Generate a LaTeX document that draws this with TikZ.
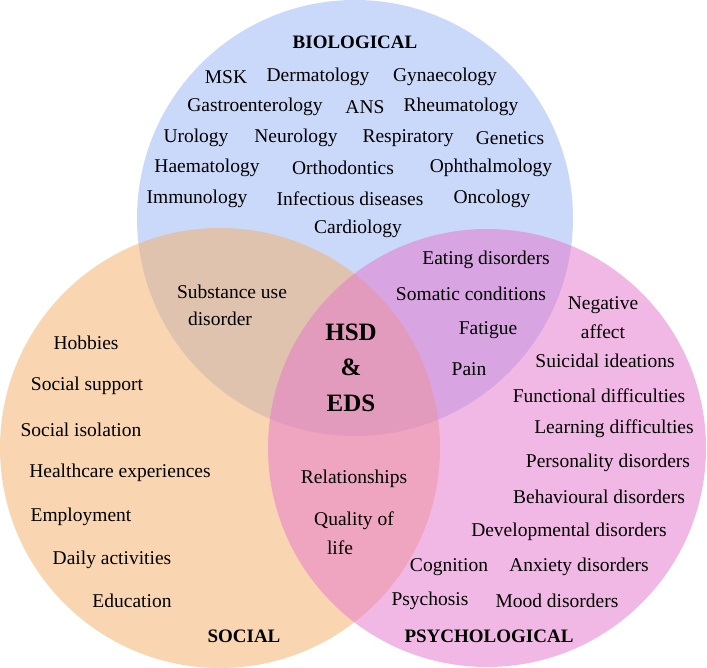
\documentclass[tikz,border=0pt]{standalone}
\usepackage{fontspec}
\setmainfont{Liberation Serif}
\begin{document}
\begin{tikzpicture}[x=1pt,y=-1pt,
  lbl/.style={font=\fontsize{19.5}{21}\selectfont,inner sep=0pt},
  ttl/.style={font=\fontsize{19}{21}\selectfont\bfseries,inner sep=0pt},
  big/.style={font=\fontsize{25}{27}\selectfont\bfseries,inner sep=0pt}]
\useasboundingbox (0,0) rectangle (707,668);
\definecolor{bio}{RGB}{150,180,245}
\definecolor{soc}{RGB}{245,175,100}
\definecolor{psy}{RGB}{230,115,205}
\fill[white] (0,0) rectangle (707,668);
\fill[bio,opacity=0.5] (355,218) circle (218);
\fill[soc,opacity=0.5] (220,448) circle (220);
\fill[psy,opacity=0.5] (487,448) circle (219);
\node[ttl] (b) at (355,42) {BIOLOGICAL};
\node[lbl] (b1) at (226,77) {MSK};
\node[lbl] (b2) at (318,77) {Dermatology};
\node[lbl] (b3) at (445,77) {Gynaecology};
\node[lbl] (b4) at (255,107) {Gastroenterology};
\node[lbl] (b5) at (365,107) {ANS};
\node[lbl] (b6) at (461,107) {Rheumatology};
\node[lbl] (b7) at (196,138) {Urology};
\node[lbl] (b8) at (296,138) {Neurology};
\node[lbl] (b9) at (408,138) {Respiratory};
\node[lbl] (b10) at (510,138) {Genetics};
\node[lbl] (b11) at (207,168) {Haematology};
\node[lbl] (b12) at (343,168) {Orthodontics};
\node[lbl] (b13) at (491,168) {Ophthalmology};
\node[lbl] (b14) at (197,199) {Immunology};
\node[lbl] (b15) at (350,199) {Infectious diseases};
\node[lbl] (b16) at (492,199) {Oncology};
\node[lbl] (b17) at (358,229) {Cardiology};
\node[lbl] (bp1) at (486,260) {Eating disorders};
\node[lbl] (bp2) at (471,294) {Somatic conditions};
\node[lbl] (bp3) at (488,330) {Fatigue};
\node[lbl] (bp4) at (469,369) {Pain};
\node[lbl] (bs1) at (232,292) {Substance use};
\node[lbl] (bs2) at (220,319) {disorder};
\node[big] (h1) at (351,332) {HSD};
\node[big] (h2) at (351,367) {\&};
\node[big] (h3) at (351,403) {EDS};
\node[lbl] (p1) at (603,305) {Negative};
\node[lbl] (p2) at (603,332) {affect};
\node[lbl] (p3) at (605,361) {Suicidal ideations};
\node[lbl] (p4) at (599,396) {Functional difficulties};
\node[lbl] (p5) at (614,429) {Learning difficulties};
\node[lbl] (p6) at (608,463) {Personality disorders};
\node[lbl] (p7) at (599,497) {Behavioural disorders};
\node[lbl] (p8) at (569,532) {Developmental disorders};
\node[lbl] (p9) at (449,567) {Cognition};
\node[lbl] (p10) at (579,567) {Anxiety disorders};
\node[lbl] (p11) at (430,601) {Psychosis};
\node[lbl] (p12) at (557,601) {Mood disorders};
\node[ttl] (p) at (489,636) {PSYCHOLOGICAL};
\node[lbl] (s1) at (86,343) {Hobbies};
\node[lbl] (s2) at (87,386) {Social support};
\node[lbl] (s3) at (81,430) {Social isolation};
\node[lbl] (s4) at (120,473) {Healthcare experiences};
\node[lbl] (s5) at (81,517) {Employment};
\node[lbl] (s6) at (112,560) {Daily activities};
\node[lbl] (s7) at (132,601) {Education};
\node[ttl] (s) at (244,636) {SOCIAL};
\node[lbl] (sp1) at (354,479) {Relationships};
\node[lbl] (sp2) at (354,521) {Quality of};
\node[lbl] (sp3) at (340,548) {life};
\end{tikzpicture}
\end{document}
